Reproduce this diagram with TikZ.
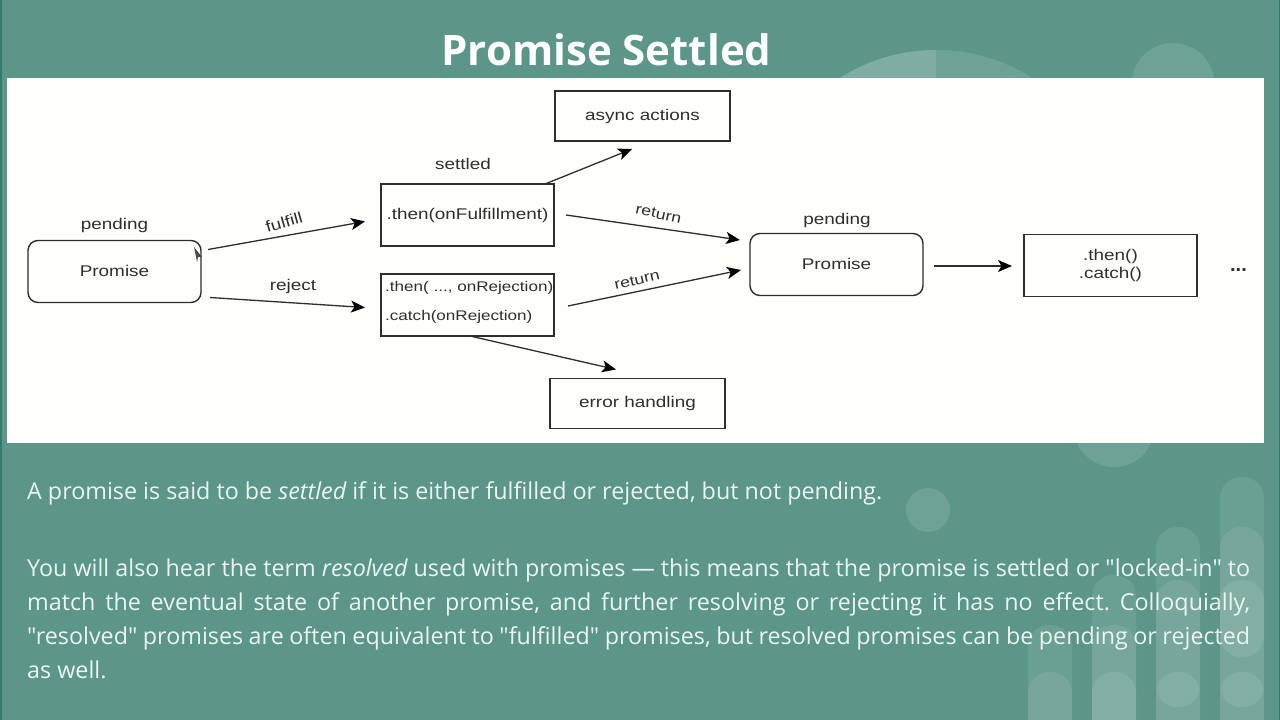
\documentclass[tikz,border=0pt]{standalone}
\usepackage{fontspec}
\setmainfont{Liberation Sans}
\newfontfamily\diagfont[FakeStretch=1.22]{Liberation Sans}
\newfontfamily\bodyfont{Open Sans}
\newfontfamily\titlefont{Open Sans}
\usetikzlibrary{arrows.meta}
\definecolor{bgteal}{HTML}{5C9689}
\definecolor{edgeteal}{HTML}{37796C}
\definecolor{ink}{HTML}{2E2E2E}
\definecolor{bodytxt}{HTML}{EAF5F0}
\tikzset{
  x=1pt,y=-1pt,
  deco/.style={fill=white,fill opacity=0.12,draw=none},
  barfill/.style={fill=white,fill opacity=0.09,draw=none},
  boxn/.style={draw=ink,line width=1.4pt,minimum width=173pt,inner sep=0pt,align=center,font=\diagfont\fontsize{15.5}{17}\selectfont,text=ink},
  roundn/.style={boxn,rounded corners=10pt,minimum height=62pt},
  lab/.style={font=\diagfont\fontsize{15.5}{17}\selectfont,text=ink,inner sep=0pt},
  smalllab/.style={lab,anchor=west,font=\diagfont\fontsize{14}{17}\selectfont},
  conn/.style={draw=ink,line width=1.3pt,-{Stealth[length=14pt,width=12pt,inset=3.5pt,color=black]}},
  para/.style={anchor=base west,inner sep=0pt,text=bodytxt,font=\bodyfont\fontsize{23.3}{26}\selectfont},
}
\newcommand{\jline}[1]{\makebox[1223pt][s]{\frenchspacing #1}}
\begin{document}
\begin{tikzpicture}
\useasboundingbox (0,0) rectangle (1280,720);
\fill[bgteal] (0,0) rectangle (1280,720);
\fill[edgeteal] (0,0) rectangle (1.5,720);
\fill[edgeteal] (1278.5,0) rectangle (1280,720);
% decoration
\fill[deco] (936,229) circle (179);
\begin{scope}
\clip (936,229) circle (179);
\fill[deco] (757,50) rectangle (936,229);
\end{scope}
\fill[deco] (1173,84.5) circle (41.5);
\fill[deco] (1114,426.5) circle (40.5);
\fill[deco] (928,510) circle (22);
\foreach \xa/\tops in {1028/{625,672},1092/{575,625,672},1156/{527,580,672},1220/{477,527,580,672}}{
  \foreach \t in \tops {
    \fill[barfill,rounded corners=21pt] (\xa,\t) rectangle ++(44,180);
  }
}
% panel
\fill[white!99!yellow] (7,78) rectangle (1264,443);
% title
\node[inner sep=0pt,text=white,font=\titlefont\bfseries\fontsize{42}{50}\selectfont] (title) at (606.5,50) {Promise Settled};
% diagram nodes
\node[roundn] (p1) at (114.5,271.5) {\raisebox{1pt}{Promise}};
\node[lab] (pend1) at (114.5,225.5) {pending};
\node[boxn,minimum height=62pt] (then1) at (467.5,215) {.then(onFulfillment)};
\node[lab] (settled) at (463,164) {settled};
\node[boxn,minimum height=62pt] (then2) at (467.5,305) {};
\node[smalllab] (then2a) at (385,287.5) {.then( ..., onRejection)};
\node[smalllab] (then2b) at (385,317) {.catch(onRejection)};
\node[boxn,minimum width=175pt,minimum height=50pt] (async) at (642.5,116) {async actions};
\node[boxn,minimum width=175pt,minimum height=50pt] (err) at (637.5,403.5) {error handling};
\node[roundn] (p2) at (836.5,264.5) {\raisebox{1pt}{Promise}};
\node[lab] (pend2) at (837,220.5) {pending};
\node[boxn,minimum height=62pt,font=\diagfont\fontsize{15.5}{17.5}\selectfont] (chain) at (1110.5,265.5) {.then()\\.catch()};
\node[lab,anchor=base,font=\bfseries\fontsize{20}{20}\selectfont] (dots) at (1238.5,271) {...};
% connector ends
\coordinate (f1) at (208,249.5); \coordinate (f2) at (365,221.5);
\coordinate (r1) at (210,297.5); \coordinate (r2) at (365,307.5);
\coordinate (a1) at (545,184); \coordinate (a2) at (632,149);
\coordinate (e1) at (470,336); \coordinate (e2) at (616,369.5);
\coordinate (t1) at (566,215); \coordinate (t2) at (740,240);
\coordinate (c1) at (568,306); \coordinate (c2) at (741,270);
\coordinate (n1) at (934,266); \coordinate (n2) at (1012,266);
\draw[conn] (f1) -- (f2);
\draw[conn] (r1) -- (r2);
\draw[conn] (a1) -- (a2);
\draw[conn] (e1) -- (e2);
\draw[conn] (t1) -- (t2);
\draw[conn] (c1) -- (c2);
\draw[conn] (n1) -- (n2);
% connector labels
\node[lab,rotate=16] (lf) at (284,222) {fulfill};
\node[lab] (lr) at (293,286.5) {reject};
\node[lab,rotate=-12,font=\diagfont\fontsize{14.5}{17}\selectfont] (lt1) at (658.5,214) {return};
\node[lab,rotate=13,font=\diagfont\fontsize{14.5}{17}\selectfont] (lt2) at (637,280) {return};
% pointer
\fill[gray!60!black] (194,247) -- (202,257) -- (198,257) -- (197,262) -- cycle;
% body text
\node[para] (l1) at (27,499.5) {A promise is said to be {\itshape settled} if it is either fulfilled or rejected, but not pending.};
\node[para] (l2) at (27,576) {\jline{You will also hear the term {\itshape resolved} used with promises — this means that the promise is settled or "locked-in" to}};
\node[para] (l3) at (27,610) {\jline{match the eventual state of another promise, and further resolving or rejecting it has no effect. Colloquially,}};
\node[para] (l4) at (27,644) {\jline{"resolved" promises are often equivalent to "fulfilled" promises, but resolved promises can be pending or rejected}};
\node[para] (l5) at (27,678) {as well.};
\end{tikzpicture}
\end{document}
